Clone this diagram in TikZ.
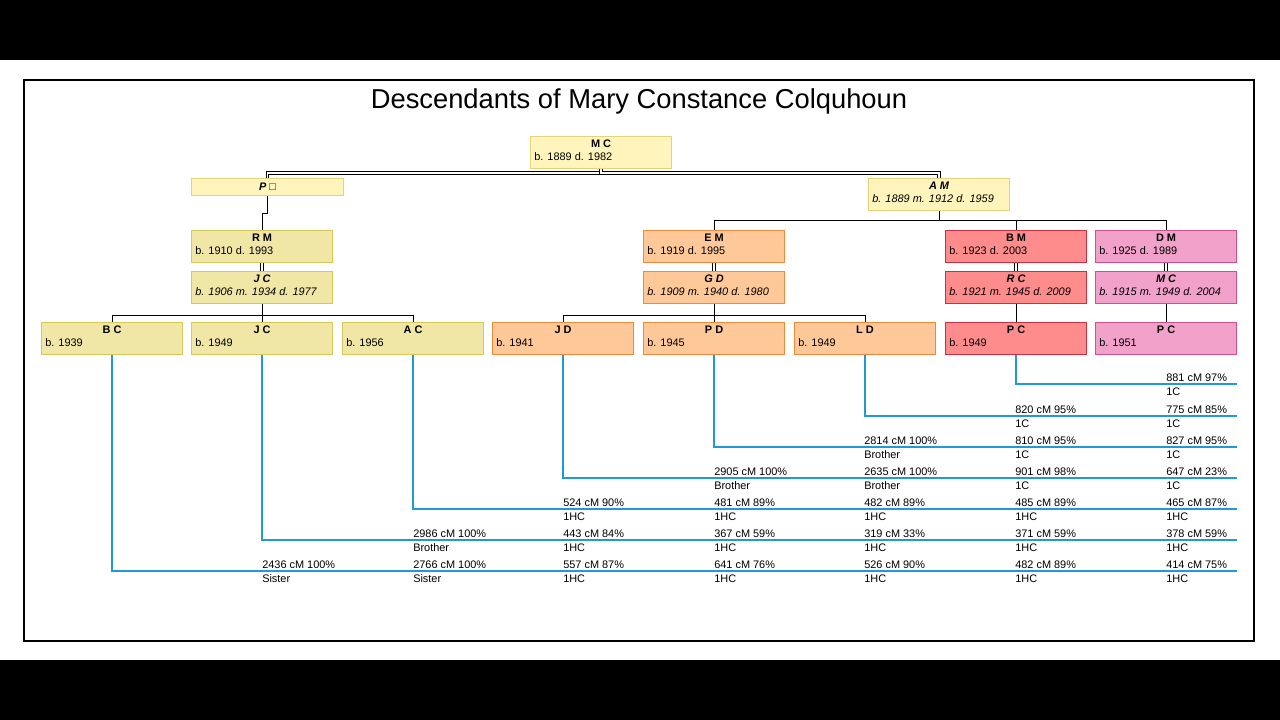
\documentclass[tikz,border=0pt]{standalone}
\usepackage{fontspec}
\setmainfont{Liberation Sans}
\newfontfamily\djvfont{DejaVu Sans}
\usetikzlibrary{calc}
\tikzset{x=0.75pt,y=-0.75pt,
 box/.style={draw,line width=0.8pt,minimum width=105.75pt,minimum height=24pt,inner sep=0pt},
 yel/.style={fill=yelF,draw=yelD},
 khk/.style={fill=khkF,draw=khkD},
 org/.style={fill=orgF,draw=orgD},
 red/.style={fill=redF,draw=redD},
 pnk/.style={fill=pnkF,draw=pnkD},
 tx/.style={font=\fontsize{8.2}{9}\selectfont,inner sep=0pt},
 conn/.style={line width=0.8pt},
 dbl/.style={double,double distance=1.2pt,line width=0.6pt},
 blue/.style={draw=blu,line width=1.6pt}}
\definecolor{yelF}{HTML}{FFF5BC}\definecolor{yelD}{HTML}{E6D27A}
\definecolor{khkF}{HTML}{F0E6A6}\definecolor{khkD}{HTML}{D8C85A}
\definecolor{orgF}{HTML}{FFC899}\definecolor{orgD}{HTML}{EE8A3C}
\definecolor{redF}{HTML}{FF8C8C}\definecolor{redD}{HTML}{CC3040}
\definecolor{pnkF}{HTML}{F2A2CA}\definecolor{pnkD}{HTML}{D0508C}
\definecolor{blu}{HTML}{1E9BD7}
\newcommand\mypb[7]{\node[box,#4,anchor=north west] (#1) at (#2,#3) {};
 \node[tx,font=\fontsize{8.2}{9}\selectfont\bfseries#7] at ($(#1.north)+(0,8)$) {#5};
 \node[tx,anchor=west,font=\fontsize{8.2}{9}\selectfont#7] at ($(#1.north west)+(4,21)$) {#6};}
\newcommand\mylab[4]{\node[tx,anchor=base west] at (#1,#2-3) {#3};
 \node[tx,anchor=base west] at (#1,#2+11) {#4};}
\begin{document}
\begin{tikzpicture}
\fill[black] (0,0) rectangle (1280,60);
\fill[black] (0,660) rectangle (1280,720);
\fill[white] (0,60) rectangle (1280,660);
\draw[line width=1.2pt] (24,80) rectangle (1254,641);
\node[font=\fontsize{20.5}{24}\selectfont] (title) at (639,101) {Descendants of Mary Constance Colquhoun};
% boxes
\mypb{mc}{530}{136}{yel}{M C}{b. 1889 d. 1982}{}
\node[box,yel,anchor=north west,minimum width=114pt,minimum height=12.75pt] (p) at (191,178) {};
\node[tx,font=\fontsize{8.2}{9}\selectfont\bfseries\itshape] at (p.center) {P {\djvfont\normalfont □}};
\mypb{am}{868}{178}{yel}{A M}{b. 1889 m. 1912 d. 1959}{\itshape}
\mypb{rm}{191}{230}{khk}{R M}{b. 1910 d. 1993}{}
\mypb{jc}{191}{271}{khk}{J C}{b. 1906 m. 1934 d. 1977}{\itshape}
\mypb{em}{643}{230}{org}{E M}{b. 1919 d. 1995}{}
\mypb{gd}{643}{271}{org}{G D}{b. 1909 m. 1940 d. 1980}{\itshape}
\mypb{bm}{945}{230}{red}{B M}{b. 1923 d. 2003}{}
\mypb{rc}{945}{271}{red}{R C}{b. 1921 m. 1945 d. 2009}{\itshape}
\mypb{dm}{1095}{230}{pnk}{D M}{b. 1925 d. 1989}{}
\mypb{mcp}{1095}{271}{pnk}{M C}{b. 1915 m. 1949 d. 2004}{\itshape}
\mypb{bc}{41}{322}{khk}{B C}{b. 1939}{}
\mypb{jc2}{191}{322}{khk}{J C}{b. 1949}{}
\mypb{ac}{342}{322}{khk}{A C}{b. 1956}{}
\mypb{jd}{492}{322}{org}{J D}{b. 1941}{}
\mypb{pd}{643}{322}{org}{P D}{b. 1945}{}
\mypb{ld}{794}{322}{org}{L D}{b. 1949}{}
\mypb{pc}{945}{322}{red}{P C}{b. 1949}{}
\mypb{pc2}{1095}{322}{pnk}{P C}{b. 1951}{}
% family connectors
\draw[dbl] (mc.south) -- ++(0,4) -| (p.north);
\draw[dbl] (mc.south) -- ++(0,4) -| (am.north);
\draw[conn] (p.south) -- ++(0,17) -| (rm.north);
\draw[dbl] (rm.south) -- (jc.north);
\draw[conn] (jc.south) -- ++(0,11) -| (bc.north);
\draw[conn] (jc.south) -- (jc2.north);
\draw[conn] (jc.south) -- ++(0,11) -| (ac.north);
\draw[conn] (am.south) -- ++(0,9) -| (em.north);
\draw[conn] (am.south) -- ++(0,9) -| (bm.north);
\draw[conn] (am.south) -- ++(0,9) -| (dm.north);
\draw[dbl] (em.south) -- (gd.north);
\draw[dbl] (bm.south) -- (rc.north);
\draw[dbl] (dm.south) -- (mcp.north);
\draw[conn] (gd.south) -- ++(0,11) -| (jd.north);
\draw[conn] (gd.south) -- (pd.north);
\draw[conn] (gd.south) -- ++(0,11) -| (ld.north);
\draw[conn] (rc.south) -- (pc.north);
\draw[conn] (mcp.south) -- (pc2.north);
% DNA lines
\foreach \n/\y/\c in {pc/384/e1,ld/416/e2,pd/447/e3,jd/478/e4,ac/509/e5,jc2/540/e6,bc/571/e7}{
  \coordinate (\c) at (1237,\y);
  \draw[blue] (\n.south) |- (\c);}
\mylab{1166}{384}{881 cM 97\%}{1C}
\mylab{1015}{416}{820 cM 95\%}{1C}\mylab{1166}{416}{775 cM 85\%}{1C}
\mylab{864}{447}{2814 cM 100\%}{Brother}\mylab{1015}{447}{810 cM 95\%}{1C}\mylab{1166}{447}{827 cM 95\%}{1C}
\mylab{714}{478}{2905 cM 100\%}{Brother}\mylab{864}{478}{2635 cM 100\%}{Brother}\mylab{1015}{478}{901 cM 98\%}{1C}\mylab{1166}{478}{647 cM 23\%}{1C}
\mylab{563}{509}{524 cM 90\%}{1HC}\mylab{714}{509}{481 cM 89\%}{1HC}\mylab{864}{509}{482 cM 89\%}{1HC}\mylab{1015}{509}{485 cM 89\%}{1HC}\mylab{1166}{509}{465 cM 87\%}{1HC}
\mylab{413}{540}{2986 cM 100\%}{Brother}\mylab{563}{540}{443 cM 84\%}{1HC}\mylab{714}{540}{367 cM 59\%}{1HC}\mylab{864}{540}{319 cM 33\%}{1HC}\mylab{1015}{540}{371 cM 59\%}{1HC}\mylab{1166}{540}{378 cM 59\%}{1HC}
\mylab{262}{571}{2436 cM 100\%}{Sister}\mylab{413}{571}{2766 cM 100\%}{Sister}\mylab{563}{571}{557 cM 87\%}{1HC}\mylab{714}{571}{641 cM 76\%}{1HC}\mylab{864}{571}{526 cM 90\%}{1HC}\mylab{1015}{571}{482 cM 89\%}{1HC}\mylab{1166}{571}{414 cM 75\%}{1HC}
\end{tikzpicture}
\end{document}
